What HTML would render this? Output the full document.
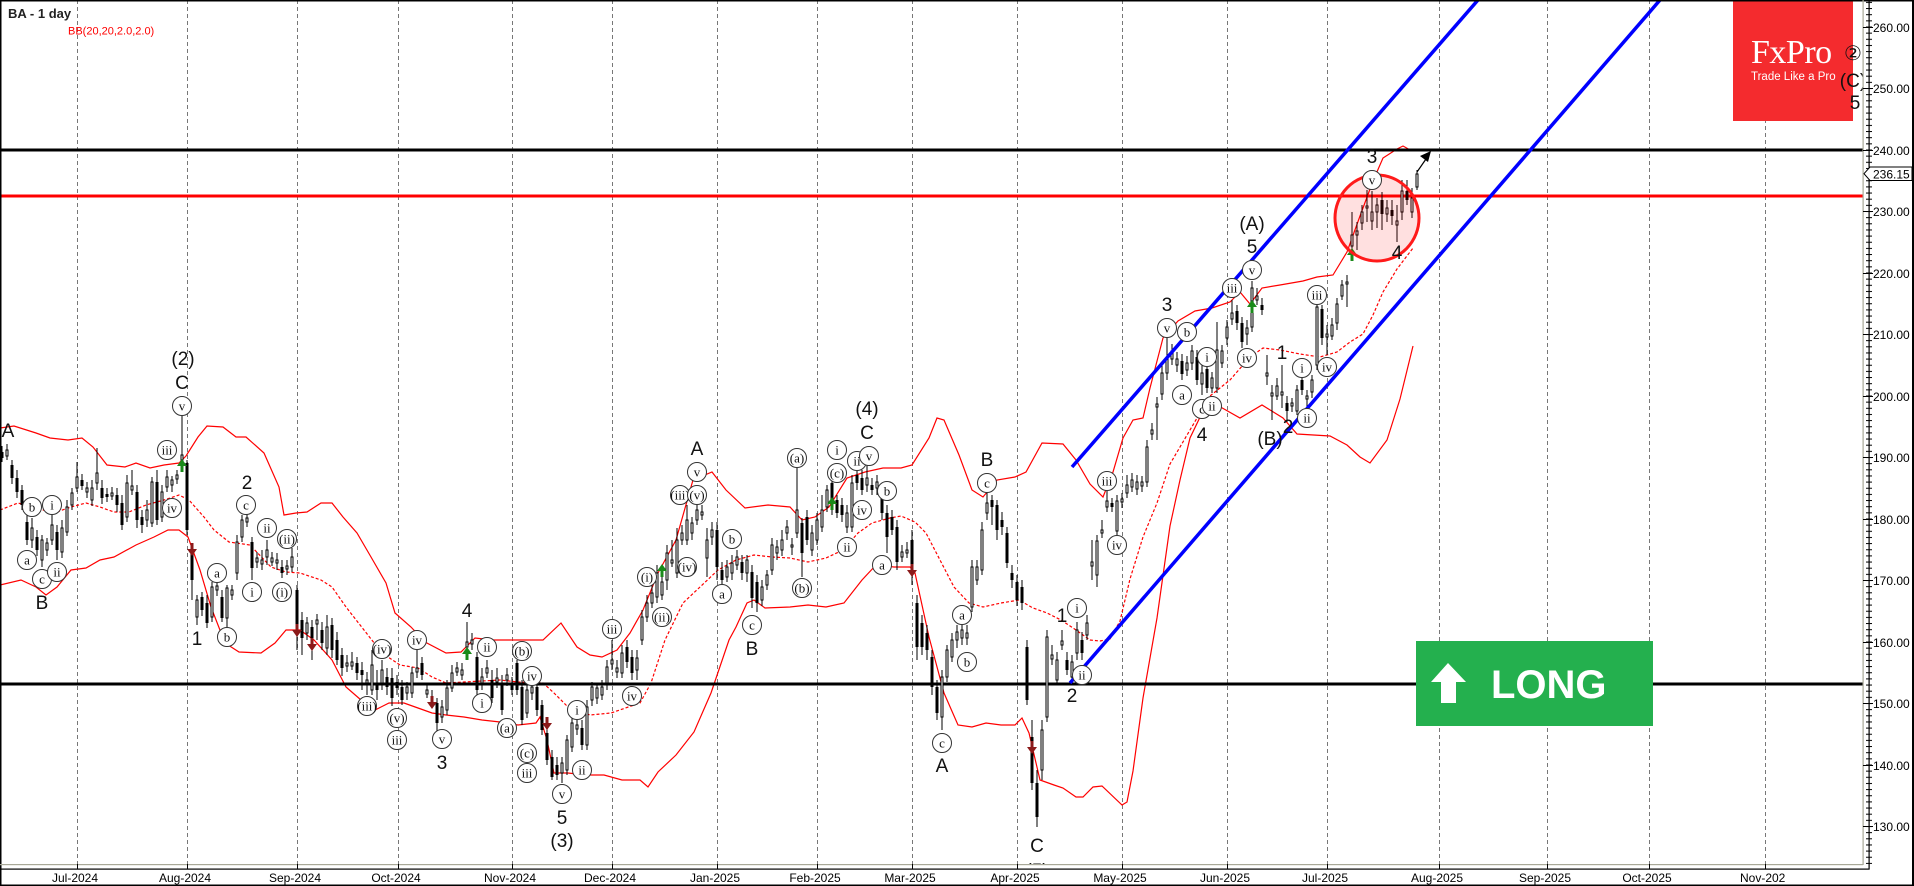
<!DOCTYPE html>
<html><head><meta charset="utf-8"><style>
html,body{margin:0;padding:0;background:#fff;}
svg{display:block;}
.L{font-family:"Liberation Sans",sans-serif;font-size:19px;fill:#111;text-anchor:middle;}
.c circle{fill:#fff;stroke:#333;stroke-width:1;}
.c text{font-family:"Liberation Serif",serif;font-size:13px;fill:#111;text-anchor:middle;}
.ax{font-family:"Liberation Sans",sans-serif;font-size:12px;fill:#000;}
.dt{font-family:"Liberation Sans",sans-serif;font-size:12px;fill:#000;text-anchor:middle;}
</style></head><body>
<svg width="1914" height="886" viewBox="0 0 1914 886" xmlns="http://www.w3.org/2000/svg">
<defs>
<clipPath id="pc"><rect x="0" y="0" width="1863" height="864"/></clipPath>
<pattern id="tk" x="0" y="26.5" width="10" height="6.15" patternUnits="userSpaceOnUse"><rect x="0" y="0" width="10" height="1" fill="#000"/></pattern>
</defs>
<rect width="1914" height="886" fill="#fff"/>
<g clip-path="url(#pc)">
<!-- grid -->
<g stroke="#777" stroke-width="1" stroke-dasharray="4 3">
<path d="M77.5 0V864M187.5 0V864M297.5 0V864M398.5 0V864M512.5 0V864M612.5 0V864M717.5 0V864M817.5 0V864M912.5 0V864M1017.5 0V864M1122.5 0V864M1227.5 0V864M1327.5 0V864M1439.5 0V864M1547.5 0V864M1649.5 0V864M1765.5 0V864"/>
</g>
<!-- bollinger -->
<g fill="none" stroke="#ff0000" stroke-width="1.2">
<polyline points="0,428 14,426 36,433 50,438 68,440 82,438 93,447 107,465 125,467 136,463 150,468 164,465 179,463 186,456 198,437 207,426 223,427 236,437 246,437 264,453 279,487 284,515 296,513 307,512 321,503 332,503 343,517 357,533 371,557 386,583 395,613 411,627 425,642 446,653 461,652 475,638 493,640 511,640 543,640 561,623 577,647 590,655 602,657 617,650 630,633 643,610 658,573 676,540 693,480 712,472 726,490 745,508 768,505 790,507 802,520 815,517 829,507 847,478 865,472 883,468 901,468 912,465 929,438 937,418 944,420 959,455 972,490 983,497 997,480 1015,477 1026,472 1042,443 1063,444 1076,460 1090,484 1103,497 1113,472 1123,438 1133,420 1143,418 1150,388 1163,338 1178,321 1195,311 1212,308 1230,302 1240,292 1250,304 1262,288 1280,285 1303,281 1317,277 1333,275 1347,252 1360,216 1373,181 1383,158 1397,149 1403,146 1412,151"/>
<polyline stroke-dasharray="3 2" points="0,510 18,503 36,508 54,513 71,507 86,503 100,507 114,512 129,512 146,505 164,500 179,495 189,500 204,517 214,530 229,542 250,545 271,567 286,572 300,573 321,580 332,587 346,607 364,630 382,653 400,665 418,668 432,677 446,683 464,682 500,680 518,682 543,683 554,693 568,707 590,715 611,713 640,703 651,683 665,640 683,603 700,587 718,570 736,560 754,555 772,557 790,558 808,562 826,558 843,550 858,533 872,523 890,518 901,516 915,522 926,533 940,560 954,587 969,603 983,607 1001,603 1019,600 1033,608 1047,613 1061,620 1076,630 1090,640 1100,641 1110,639 1120,621 1130,579 1143,537 1157,503 1170,464 1190,430 1210,396 1230,380 1250,357 1263,348 1280,350 1300,354 1320,357 1337,352 1350,342 1363,334 1373,315 1383,292 1397,269 1413,248"/>
<polyline points="0,585 21,580 36,587 46,595 57,587 71,570 86,568 100,560 114,557 136,545 154,537 168,530 179,530 188,537 200,570 211,607 225,643 239,652 261,653 275,643 286,630 300,630 314,640 332,660 346,687 361,700 375,710 389,703 404,703 418,708 432,713 446,715 464,717 482,720 500,722 518,725 536,723 540,717 547,740 554,773 568,773 586,775 604,775 622,780 640,780 648,787 658,772 676,755 694,732 711,693 729,640 736,627 747,603 754,600 765,608 790,607 808,605 826,607 844,603 862,580 876,565 894,567 910,567 915,573 929,637 944,693 958,725 972,727 986,723 1001,725 1015,725 1022,718 1029,733 1040,780 1054,785 1063,788 1076,797 1083,797 1093,787 1102,786 1122,805 1127,802 1133,771 1143,698 1157,618 1170,526 1180,480 1190,438 1203,411 1217,405 1240,418 1262,405 1283,418 1297,434 1330,436 1347,445 1360,457 1370,463 1387,440 1400,399 1413,346"/>
</g>
<!-- horizontal levels -->
<rect x="0" y="148.5" width="1863" height="3" fill="#000"/>
<rect x="0" y="194.5" width="1863" height="3" fill="#ff0000"/>
<rect x="0" y="682.5" width="1863" height="3" fill="#000"/>
<!-- candles -->
<path fill="none" stroke="#000" stroke-width="1" d="M2 446V462M7 444V460M12 460V484M17 470V498M22 485V510M27 515V545M32 518V548M37 530V556M42 535V567M47 538V556M52 515V545M57 525V560M62 520V558M67 500V536M72 488V510M77 462V492M82 474V490M87 482V498M92 480V506M97 448V490M102 480V504M107 488V502M112 487V500M117 488V512M122 495V530M127 475V522M132 470V495M137 485V528M142 510V533M147 500V527M152 477V527M157 470V525M162 485V522M167 470V492M172 476V492M177 470V484M182 415V468M187 460V535M192 545V600M197 595V625M202 592V616M207 595V628M212 582V622M217 580V596M222 590V622M227 585V627M232 585V600M237 535V580M242 515V542M247 512V527M252 537V580M257 552V568M262 550V570M267 540V565M272 552V566M277 553V570M282 560V578M287 560V575M292 548V572M297 585V650M302 612V655M307 617V640M312 620V660M317 614V640M322 622V650M327 615V655M332 618V658M337 632V665M342 648V676M347 655V672M352 652V670M357 657V680M362 662V690M367 672V695M372 650V695M377 670V700M382 660V690M387 668V695M392 668V706M397 675V695M402 680V705M407 682V700M412 667V698M417 630V678M422 657V680M427 684V698M432 690V705M437 698V733M442 700V723M447 680V715M452 665V692M457 662V676M462 663V680M467 622V652M472 633V650M477 652V695M482 668V690M487 660V678M492 670V703M497 668V688M502 675V715M507 668V686M512 677V695M517 660V695M522 680V725M527 683V718M532 680V700M537 683V716M542 700V735M547 728V765M552 750V780M557 757V780M562 757V783M567 735V775M572 718V752M577 720V735M582 720V750M587 700V750M592 682V706M597 683V704M602 680V700M607 660V690M612 640V670M617 660V678M622 645V678M627 640V668M632 650V680M637 650V680M642 610V645M647 595V622M652 585V608M657 565V603M662 575V600M667 545V590M672 540V567M677 528V578M682 525V545M687 505V545M692 517V540M697 505V525M702 505V520M707 528V577M712 522V545M717 522V580M722 562V590M727 560V582M732 555V580M737 550V570M742 555V580M747 555V582M752 565V608M757 575V612M762 580V606M767 570V590M772 538V575M777 540V560M782 530V556M787 520V540M792 538V555M797 467V538M802 518V577M807 510V545M812 525V556M817 513V545M822 495V532M827 485V512M832 478V515M837 495V518M842 498V522M847 505V533M852 475V532M857 468V490M862 470V495M867 465V492M872 478V495M877 475V495M882 488V520M887 505V553M892 510V535M897 520V570M902 545V562M907 542V558M912 530V585M917 595V660M922 615V655M927 625V660M932 650V695M937 680V720M942 670V730M947 645V682M952 633V662M957 625V648M962 622V645M967 625V645M972 560V612M977 560V585M982 522V575M987 493V520M992 495V525M997 500V540M1002 512V535M1007 527V568M1012 565V588M1017 575V606M1022 580V610M1027 640V705M1032 720V790M1037 770V827M1042 720V780M1047 630V722M1052 645V665M1057 652V685M1062 630V650M1067 652V675M1072 655V683M1077 622V660M1082 632V660M1087 615V640M1092 540V580M1097 535V587M1102 520V538M1107 490V512M1112 498V512M1117 495V536M1122 493V508M1127 475V498M1132 473V492M1137 475V495M1142 476V492M1147 440V487M1152 423V440M1157 397V440M1162 362V400M1167 338V380M1172 344V365M1177 352V372M1182 354V380M1187 356V376M1192 345V370M1197 350V385M1202 365V395M1207 362V393M1212 372V393M1217 322V393M1222 345V368M1227 320V345M1232 300V325M1237 305V330M1242 317V348M1247 320V345M1252 281V332M1257 288V305M1262 298V315M1267 355V385M1272 385V420M1277 378V400M1282 365V408M1287 396V422M1292 398V412M1297 385V415M1302 375V395M1307 390V412M1312 375V398M1317 305V370M1322 305V345M1327 325V355M1332 318V340M1337 298V330M1342 280V300M1347 275V307M1352 212V260M1357 222V250M1362 205V230M1367 190V222M1372 191V230M1377 198V228M1382 192V230M1387 200V222M1392 200V225M1397 205V242M1402 180V220M1407 180V205M1412 188V218M1417 170V190"/>
<path fill="#fff" stroke="#000" stroke-width="1" d="M6 450h2v6h-2zM31 528h2v12h-2zM41 540h2v20h-2zM46 543h2v7h-2zM51 525h2v15h-2zM61 528h2v24h-2zM66 507h2v25h-2zM71 493h2v12h-2zM76 477h2v11h-2zM86 488h2v4h-2zM91 488h2v12h-2zM96 473h2v10h-2zM111 493h2v3h-2zM126 483h2v34h-2zM131 486h2v4h-2zM146 510h2v10h-2zM151 482h2v41h-2zM161 492h2v25h-2zM166 477h2v10h-2zM171 480h2v5h-2zM176 475h2v4h-2zM181 455h2v5h-2zM196 600h2v17h-2zM211 587h2v30h-2zM216 586h2v4h-2zM226 588h2v30h-2zM231 590h2v5h-2zM236 542h2v31h-2zM241 520h2v17h-2zM246 518h2v4h-2zM256 558h2v4h-2zM261 560h2v4h-2zM266 550h2v7h-2zM271 558h2v4h-2zM276 560h2v3h-2zM286 566h2v3h-2zM291 557h2v10h-2zM306 623h2v10h-2zM316 620h2v4h-2zM326 627h2v21h-2zM346 663h2v3h-2zM351 662h2v4h-2zM366 680h2v3h-2zM371 665h2v25h-2zM381 670h2v13h-2zM406 687h2v6h-2zM411 673h2v20h-2zM416 668h2v4h-2zM426 690h2v4h-2zM441 707h2v10h-2zM446 688h2v22h-2zM451 673h2v15h-2zM456 668h2v4h-2zM461 670h2v5h-2zM466 642h2v5h-2zM471 640h2v4h-2zM481 677h2v6h-2zM486 668h2v5h-2zM496 678h2v4h-2zM506 675h2v5h-2zM526 690h2v23h-2zM531 687h2v6h-2zM561 763h2v10h-2zM566 740h2v30h-2zM571 723h2v24h-2zM576 725h2v4h-2zM586 707h2v38h-2zM591 687h2v13h-2zM596 688h2v10h-2zM601 687h2v8h-2zM606 667h2v16h-2zM611 660h2v4h-2zM616 668h2v4h-2zM621 653h2v20h-2zM636 658h2v12h-2zM641 617h2v23h-2zM646 603h2v14h-2zM651 593h2v10h-2zM656 573h2v24h-2zM661 582h2v13h-2zM666 553h2v27h-2zM671 560h2v3h-2zM676 540h2v33h-2zM681 533h2v7h-2zM686 520h2v20h-2zM691 523h2v10h-2zM696 510h2v10h-2zM701 512h2v3h-2zM706 540h2v18h-2zM711 530h2v7h-2zM726 567h2v10h-2zM731 563h2v10h-2zM736 557h2v8h-2zM746 560h2v13h-2zM761 587h2v13h-2zM766 575h2v10h-2zM771 545h2v25h-2zM776 547h2v6h-2zM781 540h2v10h-2zM786 527h2v6h-2zM791 545h2v2h-2zM796 510h2v23h-2zM811 533h2v17h-2zM816 520h2v20h-2zM821 510h2v17h-2zM826 490h2v17h-2zM846 513h2v14h-2zM851 483h2v44h-2zM866 478h2v7h-2zM876 482h2v6h-2zM901 552h2v5h-2zM906 550h2v3h-2zM941 677h2v40h-2zM946 650h2v27h-2zM951 640h2v17h-2zM956 632h2v8h-2zM961 630h2v8h-2zM966 633h2v5h-2zM971 567h2v40h-2zM976 567h2v13h-2zM981 530h2v40h-2zM986 503h2v10h-2zM1041 730h2v40h-2zM1046 637h2v80h-2zM1051 655h2v4h-2zM1056 660h2v20h-2zM1061 641h2v4h-2zM1071 662h2v15h-2zM1076 630h2v23h-2zM1086 623h2v12h-2zM1091 562h2v4h-2zM1096 541h2v34h-2zM1101 530h2v3h-2zM1106 501h2v6h-2zM1116 501h2v30h-2zM1121 499h2v3h-2zM1126 485h2v8h-2zM1131 480h2v7h-2zM1136 482h2v7h-2zM1141 482h2v4h-2zM1146 447h2v35h-2zM1151 430h2v4h-2zM1156 404h2v3h-2zM1161 373h2v21h-2zM1166 359h2v14h-2zM1171 351h2v8h-2zM1176 359h2v6h-2zM1186 363h2v7h-2zM1191 351h2v12h-2zM1201 373h2v11h-2zM1211 378h2v10h-2zM1216 350h2v38h-2zM1221 351h2v12h-2zM1226 327h2v11h-2zM1231 313h2v6h-2zM1246 328h2v6h-2zM1251 288h2v39h-2zM1256 296h2v4h-2zM1266 373h2v3h-2zM1271 393h2v3h-2zM1276 386h2v10h-2zM1281 392h2v3h-2zM1291 403h2v3h-2zM1296 390h2v21h-2zM1306 396h2v3h-2zM1311 380h2v12h-2zM1316 307h2v58h-2zM1326 334h2v3h-2zM1331 325h2v11h-2zM1336 304h2v19h-2zM1341 285h2v11h-2zM1346 282h2v2h-2zM1351 235h2v11h-2zM1356 231h2v4h-2zM1361 212h2v11h-2zM1366 206h2v2h-2zM1371 212h2v9h-2zM1376 205h2v7h-2zM1386 208h2v6h-2zM1396 221h2v4h-2zM1401 191h2v21h-2zM1411 198h2v14h-2zM1416 174h2v13h-2z"/>
<path fill="#000" d="M0.5 452h3v6h-3zM10.5 465h3v13h-3zM15.5 478h3v14h-3zM20.5 490h3v15h-3zM25.5 522h3v18h-3zM35.5 537h3v13h-3zM55.5 532h3v18h-3zM80.5 480h3v6h-3zM100.5 488h3v10h-3zM105.5 494h3v3h-3zM115.5 495h3v10h-3zM120.5 503h3v22h-3zM135.5 492h3v28h-3zM140.5 517h3v8h-3zM155.5 482h3v38h-3zM185.5 463h3v67h-3zM190.5 550h3v30h-3zM200.5 597h3v13h-3zM205.5 603h3v20h-3zM220.5 597h3v21h-3zM250.5 542h3v26h-3zM280.5 567h3v6h-3zM295.5 590h3v40h-3zM300.5 620h3v18h-3zM310.5 627h3v13h-3zM320.5 630h3v13h-3zM330.5 625h3v25h-3zM335.5 640h3v20h-3zM340.5 655h3v13h-3zM355.5 663h3v10h-3zM360.5 670h3v5h-3zM375.5 683h3v7h-3zM385.5 677h3v10h-3zM390.5 678h3v20h-3zM395.5 682h3v6h-3zM400.5 687h3v13h-3zM420.5 663h3v12h-3zM430.5 697h3v3h-3zM435.5 703h3v20h-3zM475.5 657h3v33h-3zM490.5 680h3v18h-3zM500.5 683h3v27h-3zM510.5 683h3v7h-3zM515.5 663h3v27h-3zM520.5 687h3v33h-3zM535.5 687h3v23h-3zM540.5 705h3v25h-3zM545.5 733h3v27h-3zM550.5 757h3v20h-3zM555.5 765h3v10h-3zM580.5 728h3v17h-3zM625.5 647h3v15h-3zM630.5 657h3v16h-3zM715.5 530h3v37h-3zM720.5 570h3v10h-3zM740.5 562h3v11h-3zM750.5 572h3v26h-3zM755.5 582h3v21h-3zM800.5 523h3v30h-3zM805.5 517h3v23h-3zM830.5 483h3v27h-3zM835.5 500h3v13h-3zM840.5 505h3v10h-3zM855.5 475h3v8h-3zM860.5 478h3v12h-3zM870.5 485h3v5h-3zM880.5 493h3v20h-3zM885.5 513h3v24h-3zM890.5 517h3v13h-3zM895.5 527h3v35h-3zM910.5 540h3v30h-3zM915.5 603h3v44h-3zM920.5 623h3v24h-3zM925.5 633h3v17h-3zM930.5 657h3v30h-3zM935.5 687h3v26h-3zM990.5 500h3v7h-3zM995.5 505h3v25h-3zM1000.5 520h3v7h-3zM1005.5 533h3v30h-3zM1010.5 573h3v7h-3zM1015.5 582h3v18h-3zM1020.5 587h3v16h-3zM1025.5 647h3v53h-3zM1030.5 737h3v46h-3zM1035.5 783h3v34h-3zM1065.5 660h3v10h-3zM1080.5 640h3v13h-3zM1110.5 503h3v4h-3zM1180.5 361h3v13h-3zM1195.5 357h3v23h-3zM1205.5 369h3v19h-3zM1235.5 311h3v12h-3zM1240.5 323h3v19h-3zM1260.5 305h3v5h-3zM1285.5 403h3v8h-3zM1300.5 380h3v10h-3zM1320.5 309h3v29h-3zM1380.5 200h3v14h-3zM1390.5 210h3v6h-3zM1405.5 191h3v9h-3z"/>
<!-- signal arrows -->
<g fill="#1a8a1a">
<path d="M177 466l5-7 5 7h-3.5v6h-3v-6z"/>
<path d="M462 654l5-7 5 7h-3.5v6h-3v-6z"/>
<path d="M657 571l5-7 5 7h-3.5v6h-3v-6z"/>
<path d="M827 504l5-7 5 7h-3.5v6h-3v-6z"/>
<path d="M1247 307l5-7 5 7h-3.5v6h-3v-6z"/>
<path d="M1347 255l5-7 5 7h-3.5v6h-3v-6z"/>
</g>
<g fill="#8b1a1a">
<path d="M187 549l5 7 5-7h-3.5v-6h-3v6z"/>
<path d="M292 630l5 7 5-7h-3.5v-6h-3v6z"/>
<path d="M307 644l5 7 5-7h-3.5v-6h-3v6z"/>
<path d="M427 702l5 7 5-7h-3.5v-6h-3v6z"/>
<path d="M542 723l5 7 5-7h-3.5v-6h-3v6z"/>
<path d="M907 570l5 7 5-7h-3.5v-6h-3v6z"/>
<path d="M1027 747l5 7 5-7h-3.5v-6h-3v6z"/>
</g>
<!-- channel -->
<line x1="1072" y1="467" x2="1478" y2="0" stroke="#0000ff" stroke-width="3.5"/>
<line x1="1070" y1="683" x2="1660" y2="0" stroke="#0000ff" stroke-width="3.5"/>
<ellipse cx="1377" cy="218" rx="42" ry="43" fill="rgba(255,0,0,0.12)" stroke="#ff1a1a" stroke-width="3"/>
<!-- end arrow -->
<line x1="1417" y1="172" x2="1426" y2="159" stroke="#000" stroke-width="1.2"/>
<path d="M1431 151l-11 5 8 6z" fill="#000"/>
<!-- big wave labels -->
<g class="L">
<text x="8" y="437">A</text>
<text x="42" y="609">B</text>
<text x="183" y="365">(2)</text>
<text x="182" y="389">C</text>
<text x="197" y="645">1</text>
<text x="247" y="489">2</text>
<text x="467" y="617">4</text>
<text x="442" y="769">3</text>
<text x="562" y="824">5</text>
<text x="562" y="847">(3)</text>
<text x="697" y="455">A</text>
<text x="752" y="655">B</text>
<text x="867" y="415">(4)</text>
<text x="867" y="439">C</text>
<text x="942" y="772">A</text>
<text x="987" y="466">B</text>
<text x="1037" y="852">C</text>
<text x="1037" y="877">(5)</text>
<text x="1062" y="622">1</text>
<text x="1072" y="702">2</text>
<text x="1167" y="311">3</text>
<text x="1202" y="441">4</text>
<text x="1252" y="253">5</text>
<text x="1252" y="230">(A)</text>
<text x="1282" y="359">1</text>
<text x="1270" y="445">(B)</text>
<text x="1288" y="433">2</text>
<text x="1372" y="163">3</text>
<text x="1397" y="259">4</text>
</g>
<!-- circled labels -->
<g class="c">
<g><circle cx="32" cy="507" r="9.5"/><text x="32" y="511.5">b</text></g>
<g><circle cx="52" cy="505" r="9.5"/><text x="52" y="509.5">i</text></g>
<g><circle cx="27" cy="560" r="9.5"/><text x="27" y="564.5">a</text></g>
<g><circle cx="42" cy="579" r="9.5"/><text x="42" y="583.5">c</text></g>
<g><circle cx="57" cy="572" r="9.5"/><text x="57" y="576.5">ii</text></g>
<g><circle cx="182" cy="406" r="9.5"/><text x="182" y="410.5">v</text></g>
<g><circle cx="167" cy="450" r="9.5"/><text x="167" y="454.5">iii</text></g>
<g><circle cx="172" cy="508" r="9.5"/><text x="172" y="512.5">iv</text></g>
<g><circle cx="217" cy="573" r="9.5"/><text x="217" y="577.5">a</text></g>
<g><circle cx="227" cy="637" r="9.5"/><text x="227" y="641.5">b</text></g>
<g><circle cx="246" cy="505" r="9.5"/><text x="246" y="509.5">c</text></g>
<g><circle cx="252" cy="592" r="9.5"/><text x="252" y="596.5">i</text></g>
<g><circle cx="267" cy="528" r="9.5"/><text x="267" y="532.5">ii</text></g>
<g><circle cx="287" cy="539" r="9.5"/><text x="287" y="543.5">(ii)</text></g>
<g><circle cx="282" cy="592" r="9.5"/><text x="282" y="596.5">(i)</text></g>
<g><circle cx="367" cy="706" r="9.5"/><text x="367" y="710.5">(iii)</text></g>
<g><circle cx="382" cy="649" r="9.5"/><text x="382" y="653.5">(iv)</text></g>
<g><circle cx="417" cy="640" r="9.5"/><text x="417" y="644.5">iv</text></g>
<g><circle cx="397" cy="718" r="9.5"/><text x="397" y="722.5">(v)</text></g>
<g><circle cx="397" cy="740" r="9.5"/><text x="397" y="744.5">iii</text></g>
<g><circle cx="442" cy="739" r="9.5"/><text x="442" y="743.5">v</text></g>
<g><circle cx="487" cy="647" r="9.5"/><text x="487" y="651.5">ii</text></g>
<g><circle cx="482" cy="703" r="9.5"/><text x="482" y="707.5">i</text></g>
<g><circle cx="522" cy="651" r="9.5"/><text x="522" y="655.5">(b)</text></g>
<g><circle cx="532" cy="676" r="9.5"/><text x="532" y="680.5">iv</text></g>
<g><circle cx="507" cy="728" r="9.5"/><text x="507" y="732.5">(a)</text></g>
<g><circle cx="527" cy="753" r="9.5"/><text x="527" y="757.5">(c)</text></g>
<g><circle cx="527" cy="773" r="9.5"/><text x="527" y="777.5">iii</text></g>
<g><circle cx="562" cy="794" r="9.5"/><text x="562" y="798.5">v</text></g>
<g><circle cx="577" cy="710" r="9.5"/><text x="577" y="714.5">i</text></g>
<g><circle cx="582" cy="770" r="9.5"/><text x="582" y="774.5">ii</text></g>
<g><circle cx="612" cy="629" r="9.5"/><text x="612" y="633.5">iii</text></g>
<g><circle cx="632" cy="696" r="9.5"/><text x="632" y="700.5">iv</text></g>
<g><circle cx="647" cy="577" r="9.5"/><text x="647" y="581.5">(i)</text></g>
<g><circle cx="662" cy="617" r="9.5"/><text x="662" y="621.5">(ii)</text></g>
<g><circle cx="687" cy="567" r="9.5"/><text x="687" y="571.5">(iv)</text></g>
<g><circle cx="680" cy="495" r="9.5"/><text x="680" y="499.5">(iii)</text></g>
<g><circle cx="697" cy="495" r="9.5"/><text x="697" y="499.5">(v)</text></g>
<g><circle cx="697" cy="472" r="9.5"/><text x="697" y="476.5">v</text></g>
<g><circle cx="722" cy="594" r="9.5"/><text x="722" y="598.5">a</text></g>
<g><circle cx="732" cy="539" r="9.5"/><text x="732" y="543.5">b</text></g>
<g><circle cx="752" cy="625" r="9.5"/><text x="752" y="629.5">c</text></g>
<g><circle cx="797" cy="458" r="9.5"/><text x="797" y="462.5">(a)</text></g>
<g><circle cx="802" cy="588" r="9.5"/><text x="802" y="592.5">(b)</text></g>
<g><circle cx="837" cy="450" r="9.5"/><text x="837" y="454.5">i</text></g>
<g><circle cx="837" cy="473" r="9.5"/><text x="837" y="477.5">(c)</text></g>
<g><circle cx="857" cy="461" r="9.5"/><text x="857" y="465.5">ii</text></g>
<g><circle cx="869" cy="456" r="9.5"/><text x="869" y="460.5">v</text></g>
<g><circle cx="862" cy="510" r="9.5"/><text x="862" y="514.5">iv</text></g>
<g><circle cx="847" cy="547" r="9.5"/><text x="847" y="551.5">ii</text></g>
<g><circle cx="887" cy="491" r="9.5"/><text x="887" y="495.5">b</text></g>
<g><circle cx="882" cy="565" r="9.5"/><text x="882" y="569.5">a</text></g>
<g><circle cx="942" cy="743" r="9.5"/><text x="942" y="747.5">c</text></g>
<g><circle cx="962" cy="615" r="9.5"/><text x="962" y="619.5">a</text></g>
<g><circle cx="967" cy="662" r="9.5"/><text x="967" y="666.5">b</text></g>
<g><circle cx="987" cy="483" r="9.5"/><text x="987" y="487.5">c</text></g>
<g><circle cx="1077" cy="608" r="9.5"/><text x="1077" y="612.5">i</text></g>
<g><circle cx="1082" cy="675" r="9.5"/><text x="1082" y="679.5">ii</text></g>
<g><circle cx="1107" cy="481" r="9.5"/><text x="1107" y="485.5">iii</text></g>
<g><circle cx="1117" cy="545" r="9.5"/><text x="1117" y="549.5">iv</text></g>
<g><circle cx="1167" cy="328" r="9.5"/><text x="1167" y="332.5">v</text></g>
<g><circle cx="1187" cy="332" r="9.5"/><text x="1187" y="336.5">b</text></g>
<g><circle cx="1182" cy="395" r="9.5"/><text x="1182" y="399.5">a</text></g>
<g><circle cx="1207" cy="357" r="9.5"/><text x="1207" y="361.5">i</text></g>
<g><circle cx="1202" cy="409" r="9.5"/><text x="1202" y="413.5">c</text></g>
<g><circle cx="1212" cy="406" r="9.5"/><text x="1212" y="410.5">ii</text></g>
<g><circle cx="1232" cy="288" r="9.5"/><text x="1232" y="292.5">iii</text></g>
<g><circle cx="1247" cy="358" r="9.5"/><text x="1247" y="362.5">iv</text></g>
<g><circle cx="1252" cy="270" r="9.5"/><text x="1252" y="274.5">v</text></g>
<g><circle cx="1302" cy="368" r="9.5"/><text x="1302" y="372.5">i</text></g>
<g><circle cx="1307" cy="418" r="9.5"/><text x="1307" y="422.5">ii</text></g>
<g><circle cx="1317" cy="295" r="9.5"/><text x="1317" y="299.5">iii</text></g>
<g><circle cx="1327" cy="367" r="9.5"/><text x="1327" y="371.5">iv</text></g>
<g><circle cx="1372" cy="180" r="9.5"/><text x="1372" y="184.5">v</text></g>
</g>
<!-- LONG button -->
<rect x="1416" y="641" width="237" height="85" fill="#24b04e"/>
<polygon points="1448,663 1466,682 1456,682 1456,703 1441,703 1441,682 1431,682" fill="#fff"/>
<text x="1491" y="698" font-family="Liberation Sans, sans-serif" font-size="40" font-weight="bold" fill="#fff">LONG</text>
<!-- logo -->
<rect x="1733" y="0" width="120" height="121" fill="#f42b2e"/>
<text x="1751" y="63" font-family="Liberation Serif, serif" font-size="34" fill="#fff" letter-spacing="-0.5">FxPro</text>
<text x="1751" y="80" font-family="Liberation Sans, sans-serif" font-size="11.5" fill="#fff">Trade Like a Pro</text>
<text x="1853" y="60" class="L" style="font-size:20px">②</text>
<text x="1853" y="87" class="L">(C)</text>
<text x="1855" y="109" class="L">5</text>
<!-- title -->
<text x="8" y="18" font-family="Liberation Sans, sans-serif" font-size="13" font-weight="bold" fill="#222">BA - 1 day</text>
<text x="68" y="34.5" font-family="Liberation Sans, sans-serif" font-size="11" fill="#ff0000">BB(20,20,2.0,2.0)</text>
</g>
<!-- frame -->
<rect x="0" y="0" width="1914" height="1.5" fill="#000"/>
<rect x="0" y="0" width="1.5" height="886" fill="#000"/>
<rect x="1912" y="0" width="2" height="886" fill="#000"/>
<rect x="0" y="884.5" width="1914" height="1.5" fill="#000"/>
<rect x="0" y="864" width="1863" height="1.2" fill="#a8a898"/>
<rect x="1862.5" y="0" width="1.2" height="865" fill="#a8a898"/>
<rect x="0" y="868.5" width="1869.5" height="1.2" fill="#000"/>
<rect x="1868.5" y="0" width="1.2" height="869.5" fill="#000"/>
<!-- price axis ticks -->
<rect x="1866" y="0" width="6" height="864" fill="url(#tk)"/>
<path stroke="#000" stroke-width="1" d="M1863 27.5h10M1863 88.5h10M1863 150.5h10M1863 211.5h10M1863 273.5h10M1863 334.5h10M1863 396.5h10M1863 457.5h10M1863 519.5h10M1863 580.5h10M1863 642.5h10M1863 703.5h10M1863 765.5h10M1863 826.5h10"/>
<g class="ax">
<text x="1873" y="32">260.00</text>
<text x="1873" y="93">250.00</text>
<text x="1873" y="155">240.00</text>
<text x="1873" y="216">230.00</text>
<text x="1873" y="278">220.00</text>
<text x="1873" y="339">210.00</text>
<text x="1873" y="401">200.00</text>
<text x="1873" y="462">190.00</text>
<text x="1873" y="524">180.00</text>
<text x="1873" y="585">170.00</text>
<text x="1873" y="647">160.00</text>
<text x="1873" y="708">150.00</text>
<text x="1873" y="770">140.00</text>
<text x="1873" y="831">130.00</text>
</g>
<polygon points="1864,173.7 1870,167 1912,167 1912,180.5 1870,180.5" fill="#fff" stroke="#000" stroke-width="1"/>
<text x="1873" y="178.5" class="ax">236.15</text>
<!-- date axis -->
<path stroke="#000" stroke-width="1" d="M77.5 864V869M187.5 864V869M297.5 864V869M398.5 864V869M512.5 864V869M612.5 864V869M717.5 864V869M817.5 864V869M912.5 864V869M1017.5 864V869M1122.5 864V869M1227.5 864V869M1327.5 864V869M1439.5 864V869M1547.5 864V869M1649.5 864V869M1765.5 864V869"/>
<g class="dt">
<text x="75" y="882">Jul-2024</text>
<text x="185" y="882">Aug-2024</text>
<text x="295" y="882">Sep-2024</text>
<text x="396" y="882">Oct-2024</text>
<text x="510" y="882">Nov-2024</text>
<text x="610" y="882">Dec-2024</text>
<text x="715" y="882">Jan-2025</text>
<text x="815" y="882">Feb-2025</text>
<text x="910" y="882">Mar-2025</text>
<text x="1015" y="882">Apr-2025</text>
<text x="1120" y="882">May-2025</text>
<text x="1225" y="882">Jun-2025</text>
<text x="1325" y="882">Jul-2025</text>
<text x="1437" y="882">Aug-2025</text>
<text x="1545" y="882">Sep-2025</text>
<text x="1647" y="882">Oct-2025</text>
</g>
<text x="1740" y="882" class="ax">Nov-202</text>
</svg>
</body></html>
